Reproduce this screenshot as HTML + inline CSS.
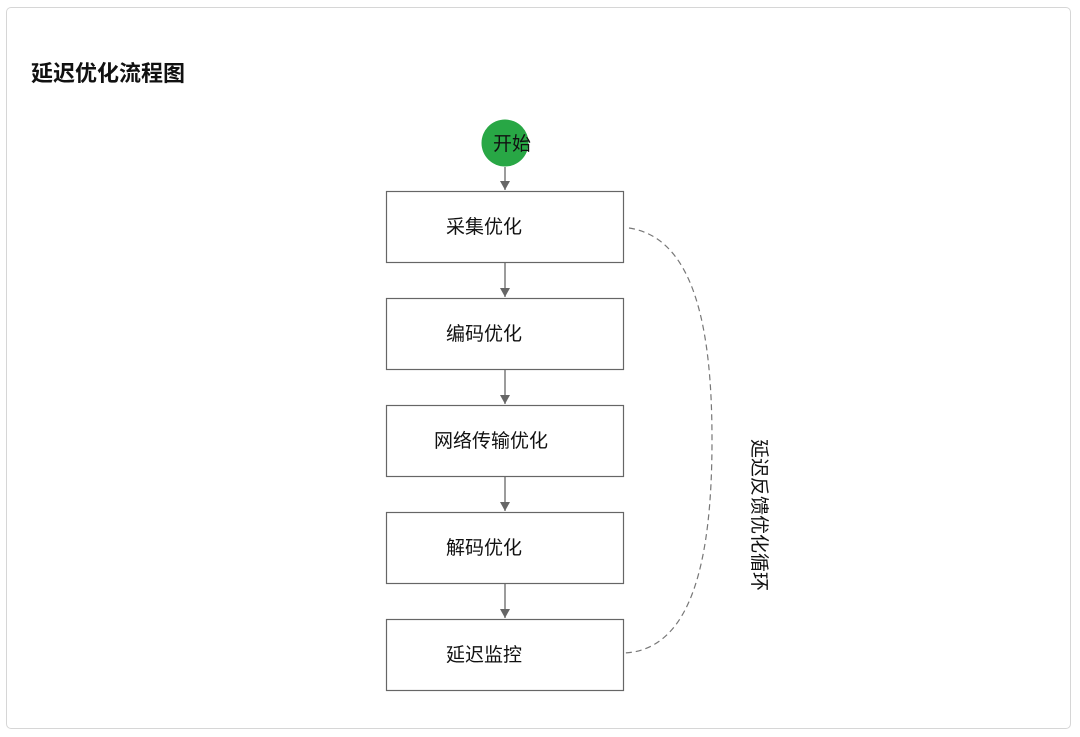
<!DOCTYPE html>
<html><head><meta charset="utf-8"><style>
html,body{margin:0;padding:0;background:#fff;}
body{width:1080px;height:737px;position:relative;overflow:hidden;font-family:"Liberation Sans","Noto Sans CJK SC",sans-serif;}
.card{position:absolute;left:6px;top:7px;width:1065px;height:722px;border:1px solid #d6d6d6;border-radius:5px;box-sizing:border-box;}
.title{position:absolute;left:31px;top:56px;font-size:22px;font-weight:bold;color:#111;}
</style></head><body>
<div class="card"></div>
<div class="title">延迟优化流程图</div>
<svg width="1080" height="737" style="position:absolute;left:0;top:0" font-family="Liberation Sans, Noto Sans CJK SC, sans-serif">
<defs><marker id="a" markerWidth="10" markerHeight="10" refX="9" refY="5" orient="auto" markerUnits="userSpaceOnUse"><path d="M0,0 L9,5 L0,10z" fill="#666"/></marker></defs>
<circle cx="505" cy="143" r="23.5" fill="#28a745"/>
<text x="512" y="150" font-size="19" text-anchor="middle" fill="#111">开始</text>
<g stroke="#666" stroke-width="1.3" fill="none">
<line x1="505" y1="167" x2="505" y2="190" marker-end="url(#a)"/>
<line x1="505" y1="262" x2="505" y2="297" marker-end="url(#a)"/>
<line x1="505" y1="369" x2="505" y2="404" marker-end="url(#a)"/>
<line x1="505" y1="476" x2="505" y2="511" marker-end="url(#a)"/>
<line x1="505" y1="583" x2="505" y2="618" marker-end="url(#a)"/>
</g>
<g stroke="#666" stroke-width="1.2" fill="#fff">
<rect x="386.5" y="191.5" width="237" height="71"/>
<rect x="386.5" y="298.5" width="237" height="71"/>
<rect x="386.5" y="405.5" width="237" height="71"/>
<rect x="386.5" y="512.5" width="237" height="71"/>
<rect x="386.5" y="619.5" width="237" height="71"/>
</g>
<g font-size="19" fill="#111">
<text x="446" y="233">采集优化</text>
<text x="446" y="340">编码优化</text>
<text x="434" y="447">网络传输优化</text>
<text x="446" y="554">解码优化</text>
<text x="446" y="661">延迟监控</text>
</g>
<path d="M629,228 C695,238 712,330 712,440 C712,560 692,650 624,653" stroke="#777" stroke-width="1.2" fill="none" stroke-dasharray="6,4"/>
<text transform="translate(753,439) rotate(90)" font-size="19" fill="#111">延迟反馈优化循环</text>
</svg>
</body></html>
